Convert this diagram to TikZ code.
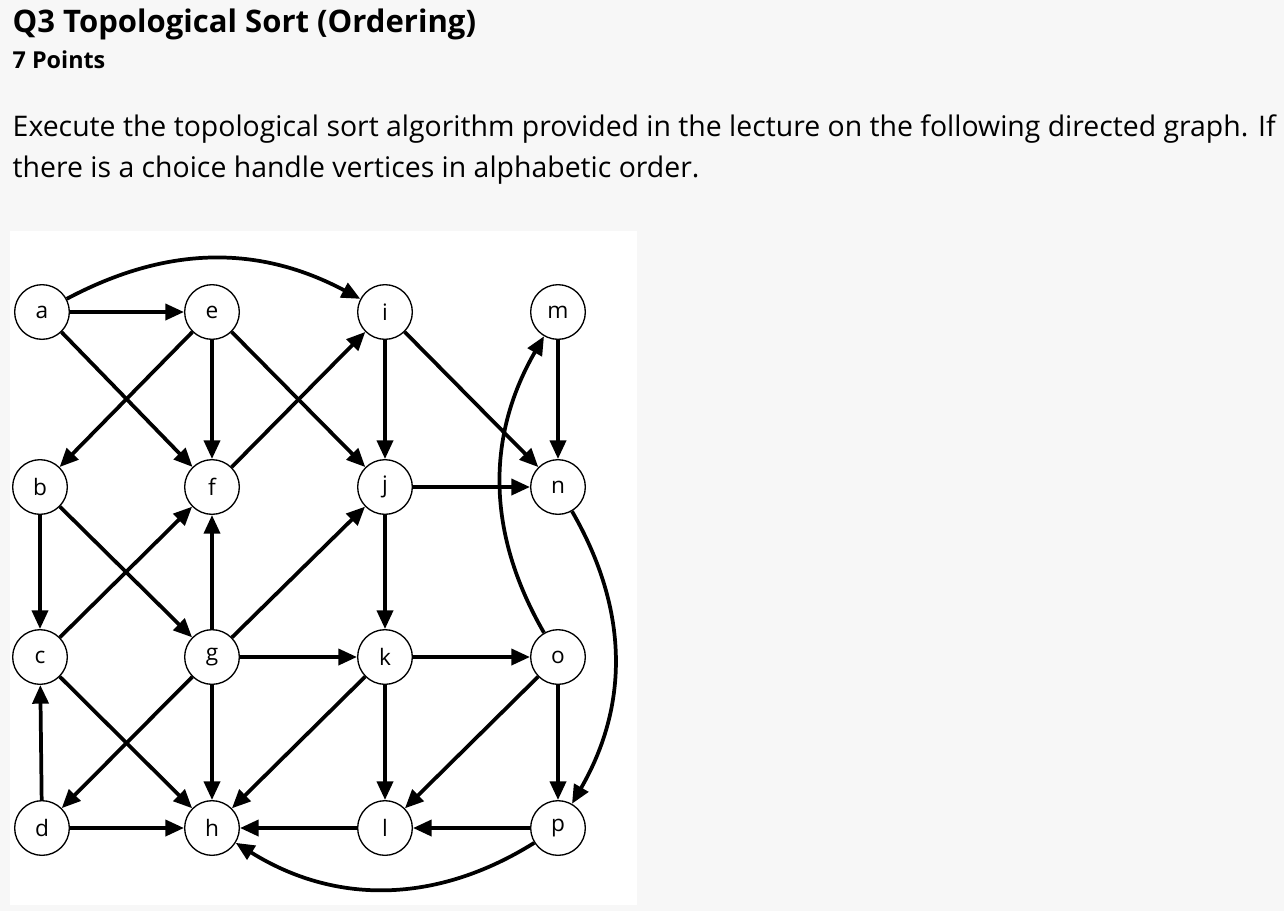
\documentclass[tikz,border=0pt]{standalone}
\usepackage{fontspec}
\setmainfont{Open Sans}
\usetikzlibrary{arrows.meta}
\begin{document}
\begin{tikzpicture}[x=0.75pt,y=-0.75pt,
 v/.style={circle,draw,line width=1pt,minimum size=41pt,inner sep=0pt,font=\fontsize{17}{17}\selectfont,fill=white},
 e/.style={line width=2.8pt,-{Triangle[length=14pt,width=12pt]},shorten >=0pt}]
\fill[black!3] (0,0) rectangle (1284,911);
\useasboundingbox (0,0) rectangle (1284,911);
\fill[white] (10,231) rectangle (637,905);
\node[anchor=base west,font=\fontsize{23.3}{26}\selectfont\bfseries] (t) at (8,32) {Q3 Topological Sort (Ordering)};
\node[anchor=base west,font=\fontsize{17.5}{20}\selectfont\bfseries] (pts) at (8,68) {7 Points};
\node[anchor=base west,font=\fontsize{21.3}{26}\selectfont] (l1) at (8,136) {Execute the topological sort algorithm provided in the lecture on the following directed graph. If};
\node[anchor=base west,font=\fontsize{21.3}{26}\selectfont] (l2) at (8,177) {there is a choice handle vertices in alphabetic order.};
\foreach \n/\x/\y in {a/42/312,e/212/312,i/385/312,m/558/312,b/40/487,f/212/487,j/385/487,n/558/487,c/40/657,g/212/657,k/385/657,o/558/657,d/42/828,h/212/828,l/385/828,p/558/828}
  \node[v] (\n) at (\x,\y) {\n};
\draw[e] (a)--(e); \draw[e] (a) to[bend left=28] (i); \draw[e] (a)--(f);
\draw[e] (e)--(b); \draw[e] (e)--(f); \draw[e] (e)--(j);
\draw[e] (f)--(i); \draw[e] (i)--(j); \draw[e] (i)--(n);
\draw[e] (m)--(n); \draw[e] (j)--(n); \draw[e] (j)--(k);
\draw[e] (b)--(c); \draw[e] (b)--(g); \draw[e] (c)--(f);
\draw[e] (g)--(f); \draw[e] (g)--(j); \draw[e] (g)--(k);
\draw[e] (g)--(d); \draw[e] (g)--(h); \draw[e] (c)--(h);
\draw[e] (d)--(c); \draw[e] (d)--(h);
\draw[e] (k)--(o); \draw[e] (k)--(h); \draw[e] (k)--(l);
\draw[e] (o)--(l); \draw[e] (o)--(p);
\draw[e] (o) to[bend left=30] (m);
\draw[e] (n) to[bend left=30] (p);
\draw[e] (l)--(h); \draw[e] (p)--(l);
\draw[e] (p) to[bend left=32] (h);
\end{tikzpicture}
\end{document}
